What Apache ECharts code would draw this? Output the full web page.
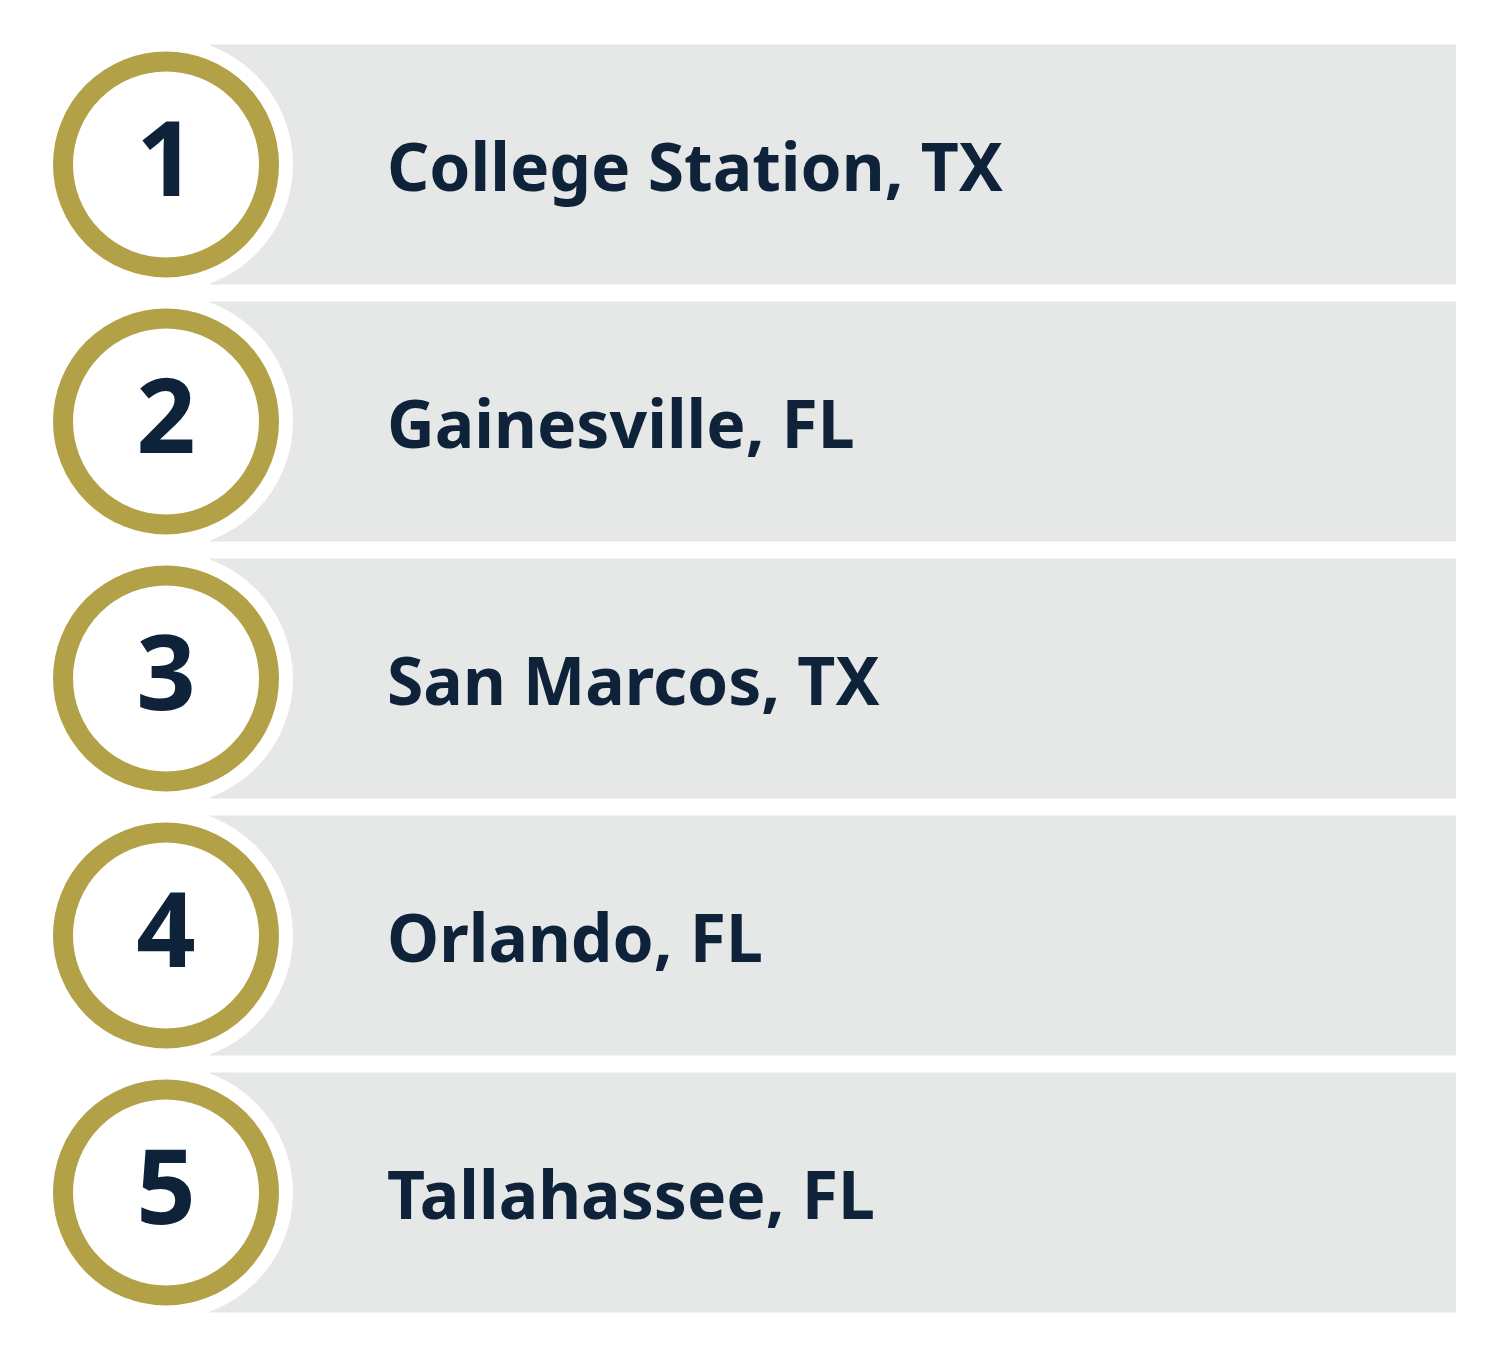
<!DOCTYPE html>
<html><head><meta charset="utf-8">
<script src="https://cdn.jsdelivr.net/npm/echarts@6/dist/echarts.min.js"></script>
<style>html,body{margin:0;padding:0;background:#fff}#c{width:1500px;height:1365px}</style>
</head><body><div id="c"></div>
<script>
const cities = ["College Station, TX","Gainesville, FL","San Marcos, TX","Orlando, FL","Tallahassee, FL"];
const ranks = [1,2,3,4,5];

const chart = echarts.init(document.getElementById('c'));
chart.setOption({
  backgroundColor:'#ffffff',
  animation:false,
  grid:{left:0,right:0,top:36,height:1285},
  xAxis:{type:'value',min:0,max:1500,show:false},
  yAxis:{type:'category',data:cities,inverse:true,show:false},
  series:[{
    type:'custom',
    data:ranks.map((r,i)=>[0,i,r]),
    renderItem:function(params,api){
      const idx=api.value(1);
      const c=api.coord([0,idx]);
      const cy=c[1];
      const band=api.size([0,1])[1];
      const h=band-17;
      const x0=api.coord([210,idx])[0], x1=api.coord([1456,idx])[0];
      const cx=api.coord([166,idx])[0];
      const tx=api.coord([387,idx])[0];
      return {type:'group',children:[
        {type:'rect',shape:{x:x0,y:cy-h/2,width:x1-x0,height:h},style:{fill:'#e6e7e7'}},
        {type:'circle',shape:{cx:cx,cy:cy,r:127},style:{fill:'#ffffff'}},
        {type:'circle',shape:{cx:cx,cy:cy,r:103},style:{fill:'#ffffff',stroke:'#b3a147',lineWidth:20}},
        {type:'text',style:{x:cx,y:cy+2,text:String(api.value(2)),fill:'#0e2239',font:'bold 104px "Noto Sans"',align:'center',verticalAlign:'middle'}},
        {type:'text',style:{x:tx,y:cy+8,text:cities[idx],fill:'#0e2239',font:'bold 66px "Noto Sans"',align:'left',verticalAlign:'middle'}}
      ]};
    }
  }]
});
</script></body></html>
